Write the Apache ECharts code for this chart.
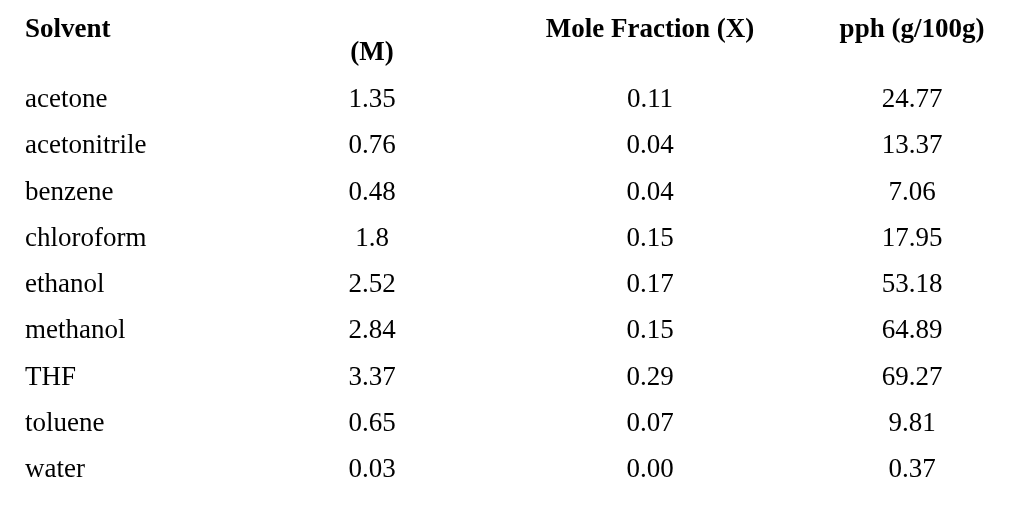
<!DOCTYPE html>
<html>
<head>
<meta charset="utf-8">
<script src="https://cdn.jsdelivr.net/npm/echarts@6/dist/echarts.min.js"></script>
<style>html,body{margin:0;background:#fff}#c{width:1024px;height:506px}</style>
</head>
<body>
<div id="c"></div>
<script>
const solvents = ['acetone', 'acetonitrile', 'benzene', 'chloroform', 'ethanol', 'methanol', 'THF', 'toluene', 'water'];
const molarity = ['1.35', '0.76', '0.48', '1.8', '2.52', '2.84', '3.37', '0.65', '0.03'];
const moleFraction = ['0.11', '0.04', '0.04', '0.15', '0.17', '0.15', '0.29', '0.07', '0.00'];
const pph = ['24.77', '13.37', '7.06', '17.95', '53.18', '64.89', '69.27', '9.81', '0.37'];

const font = 'Liberation Serif';
const colX = [25, 372, 650, 912];
const columns = [solvents, molarity, moleFraction, pph];

function colSeries(values, i) {
    return {
        type: 'scatter',
        symbolSize: 0,
        itemStyle: { opacity: 1, color: '#000' },
        emphasis: { disabled: true },
        data: values.map((v, r) => [colX[i], solvents[r], v]),
        label: {
            show: true,
            position: 'inside',
            align: i === 0 ? 'left' : 'center',
            formatter: p => p.data[2],
            fontFamily: font,
            fontSize: 27,
            color: '#000',
            opacity: 1
        }
    };
}

const chart = echarts.init(document.getElementById('c'));
chart.setOption({
    animation: false,
    grid: { left: 0, right: 0, top: 77, bottom: 13 },
    xAxis: { type: 'value', min: 0, max: 1024, show: false },
    yAxis: { type: 'category', data: solvents, inverse: true, show: false },
    series: columns.map(colSeries),
    graphic: [
        { type: 'text', x: 25, y: 30, style: { text: 'Solvent', font: 'bold 27px ' + font, fill: '#000', verticalAlign: 'middle' } },
        { type: 'text', x: 372, y: 53, style: { text: '(M)', font: 'bold 27px ' + font, fill: '#000', align: 'center', verticalAlign: 'middle' } },
        { type: 'text', x: 650, y: 30, style: { text: 'Mole Fraction (X)', font: 'bold 27px ' + font, fill: '#000', align: 'center', verticalAlign: 'middle' } },
        { type: 'text', x: 912, y: 30, style: { text: 'pph (g/100g)', font: 'bold 27px ' + font, fill: '#000', align: 'center', verticalAlign: 'middle' } }
    ]
});
</script>
</body>
</html>
